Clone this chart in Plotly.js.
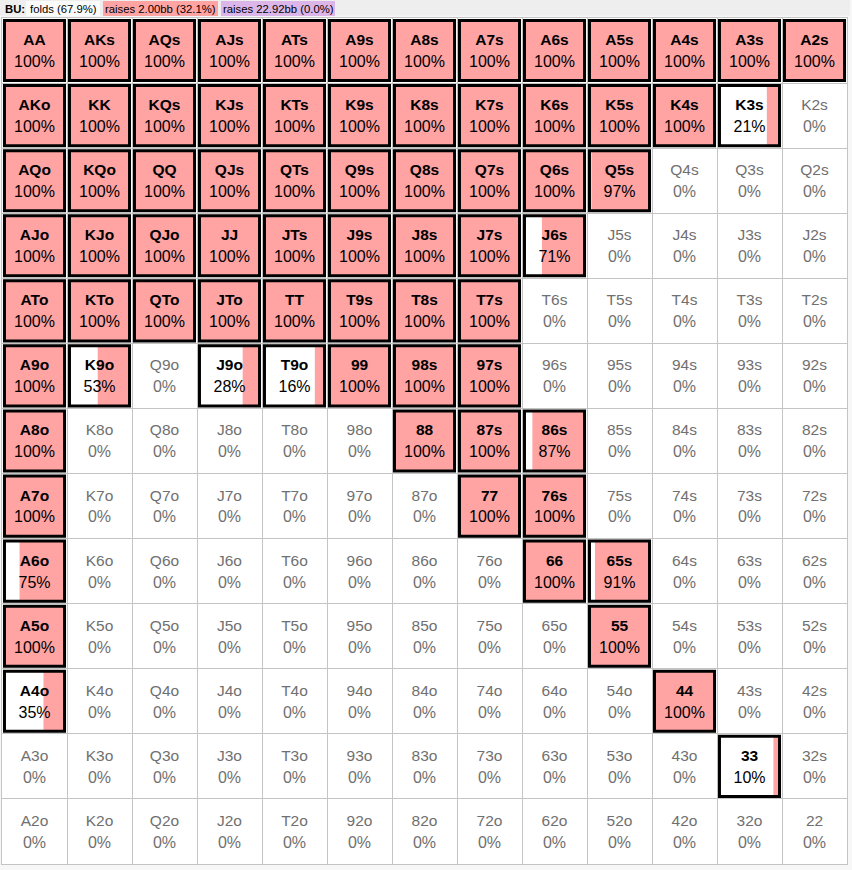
<!DOCTYPE html>
<html>
<head>
<meta charset="utf-8">
<script src="https://cdn.plot.ly/plotly-3.0.1.min.js"></script>
<style>
html,body{margin:0;padding:0;background:#f7f7f7;}
#chart{width:852px;height:870px;}
</style>
</head>
<body>
<div id="chart"></div>
<script>
// ---- data ----
const ranks = ['A','K','Q','J','T','9','8','7','6','5','4','3','2'];
// raise percentages, row = first rank, col = second rank (upper right suited, lower left offsuit)
const pctRowA = [100,100,100,100,100,100,100,100,100,100,100,100,100];
const pctRowK = [100,100,100,100,100,100,100,100,100,100,100,21,0];
const pctRowQ = [100,100,100,100,100,100,100,100,100,97,0,0,0];
const pctRowJ = [100,100,100,100,100,100,100,100,71,0,0,0,0];
const pctRowT = [100,100,100,100,100,100,100,100,0,0,0,0,0];
const pctRow9 = [100,53,0,28,16,100,100,100,0,0,0,0,0];
const pctRow8 = [100,0,0,0,0,0,100,100,87,0,0,0,0];
const pctRow7 = [100,0,0,0,0,0,0,100,100,0,0,0,0];
const pctRow6 = [75,0,0,0,0,0,0,0,100,91,0,0,0];
const pctRow5 = [100,0,0,0,0,0,0,0,0,100,0,0,0];
const pctRow4 = [35,0,0,0,0,0,0,0,0,0,100,0,0];
const pctRow3 = [0,0,0,0,0,0,0,0,0,0,0,10,0];
const pctRow2 = [0,0,0,0,0,0,0,0,0,0,0,0,0];
const pctRows = [pctRowA,pctRowK,pctRowQ,pctRowJ,pctRowT,pctRow9,pctRow8,pctRow7,pctRow6,pctRow5,pctRow4,pctRow3,pctRow2];

const headerPosition = 'BU:';
const headerLabels = ['folds (67.9%)','raises 2.00bb (32.1%)','raises 22.92bb (0.0%)'];
const headerColors = ['#fbfbfb','#ffa3a3','#dcb6e8'];

// ---- style ----
const PINK = '#ffa3a3';
const W = 852, H = 870;
const M = {l:2, r:5, t:18, b:6};
const PW = W - M.l - M.r, PH = H - M.t - M.b;
const HFONT = 'Liberation Sans, Arial, sans-serif';

function handName(i,j){
  if (i===j) return ranks[i]+ranks[j];
  if (i<j) return ranks[i]+ranks[j]+'s';
  return ranks[j]+ranks[i]+'o';
}

const fillX=[], fillY=[], fillBase=[];
const bordX=[], bordY=[], bordBase=[];
const nameX=[], nameY=[], nameT=[], nameC=[];
const pctX=[], pctY=[], pctT=[], pctC=[];
const fi = 0.04, bi = 0.038;
for (let i=0;i<13;i++){
  for (let j=0;j<13;j++){
    const p = pctRows[i][j];
    const nm = handName(i,j);
    nameX.push(j+0.5); nameY.push(i+0.355);
    pctX.push(j+0.5); pctY.push(i+0.69);
    if (p>0){
      const w = p/100*(1-2*fi);
      fillX.push(w); fillY.push(i+0.5); fillBase.push(j+1-fi-w);
      bordX.push(1-2*bi); bordY.push(i+0.5); bordBase.push(j+bi);
      nameT.push('<b>'+nm+'</b>'); nameC.push('#000000');
      pctT.push(p+'%'); pctC.push('#000000');
    } else {
      nameT.push(nm); nameC.push('#707070');
      pctT.push(p+'%'); pctC.push('#707070');
    }
  }
}

const traces = [
  {type:'bar', orientation:'h', x:fillX, y:fillY, base:fillBase, width:1-2*fi,
   marker:{color:PINK, line:{width:0}}, hoverinfo:'skip'},
  {type:'bar', orientation:'h', x:bordX, y:bordY, base:bordBase, width:1-2*bi,
   marker:{color:'rgba(0,0,0,0)', line:{width:3, color:'#000000'}}, hoverinfo:'skip'},
  {type:'scatter', mode:'text', x:nameX, y:nameY, text:nameT,
   textfont:{family:'Liberation Sans, Arial, sans-serif', size:15.5, color:nameC},
   textposition:'middle center', hoverinfo:'skip'},
  {type:'scatter', mode:'text', x:pctX, y:pctY, text:pctT,
   textfont:{family:'Liberation Sans, Arial, sans-serif', size:16, color:pctC},
   textposition:'middle center', hoverinfo:'skip'}
];

function px2x(px){ return (px - M.l)/PW; }
function py2y(py){ return 1 + (M.t - py)/PH; }

const shapes = [
  {type:'rect', xref:'paper', yref:'paper', x0:px2x(0), x1:px2x(850), y0:py2y(15.5), y1:py2y(0),
   fillcolor:'#eeeeee', line:{width:0}, layer:'below'}
];
const boxes = [[26,100],[103,218],[221,335]];
const annotations = [
  {xref:'paper', yref:'paper', x:px2x(2.5), y:py2y(8.5), xanchor:'left', yanchor:'middle',
   text:'<b>'+headerPosition+'</b>', showarrow:false,
   font:{family:HFONT, size:11.3, color:'#000'}}
];
headerLabels.forEach((t,k)=>{
  shapes.push({type:'rect', xref:'paper', yref:'paper', x0:px2x(boxes[k][0]), x1:px2x(boxes[k][1]),
    y0:py2y(16), y1:py2y(1), fillcolor:headerColors[k], line:{width:0}, layer:'below'});
  annotations.push({xref:'paper', yref:'paper', x:px2x((boxes[k][0]+boxes[k][1])/2), y:py2y(8.5),
    xanchor:'center', yanchor:'middle', text:t, showarrow:false,
    font:{family:HFONT, size:11.3, color:'#000'}});
});

const ticks = Array.from({length:14},(_,k)=>k);
const layout = {
  width:W, height:H, margin:M,
  paper_bgcolor:'#f7f7f7', plot_bgcolor:'#ffffff',
  showlegend:false, barmode:'overlay',
  xaxis:{range:[0,13], tickvals:ticks, showticklabels:false, ticks:'', showgrid:true,
         gridcolor:'#c4c4c4', gridwidth:1, zeroline:false, showline:true, linecolor:'#c4c4c4', mirror:true, fixedrange:true},
  yaxis:{range:[13,0], tickvals:ticks, showticklabels:false, ticks:'', showgrid:true,
         gridcolor:'#c4c4c4', gridwidth:1, zeroline:false, showline:true, linecolor:'#c4c4c4', mirror:true, fixedrange:true},
  shapes:shapes, annotations:annotations
};
Plotly.newPlot('chart', traces, layout, {staticPlot:true, displayModeBar:false});
</script>
</body>
</html>
